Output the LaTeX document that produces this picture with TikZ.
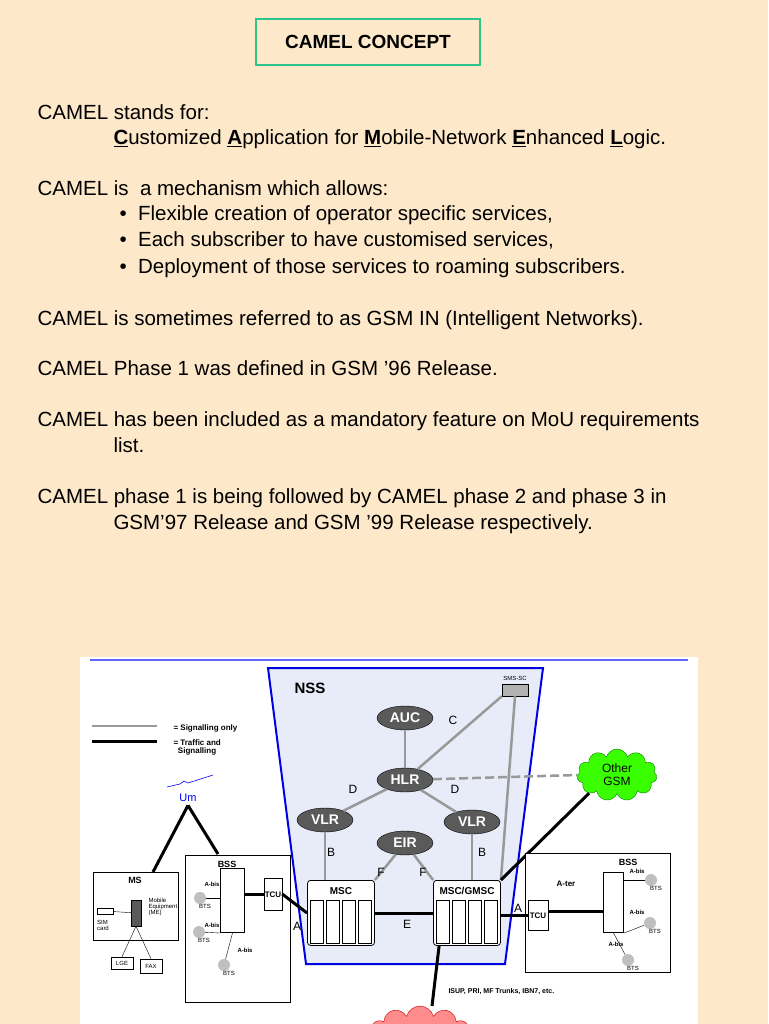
\documentclass[tikz,border=0pt]{standalone}
\usepackage{fontspec}
\setmainfont{Liberation Sans}
\usetikzlibrary{shapes.symbols,shapes.geometric,positioning}
\definecolor{peach}{HTML}{FDE8CA}
\definecolor{titleg}{HTML}{2EC48A}
\definecolor{nssfill}{HTML}{E8ECF8}
\definecolor{dev}{HTML}{5A5A5A}
\begin{document}
\begin{tikzpicture}[x=1pt,y=-1pt,
  body/.style={anchor=base west,font=\fontsize{20.5}{22}\selectfont},
  sig/.style={line width=2.5pt,gray!80},
  trf/.style={line width=3pt,black},
  dev/.style={ellipse,fill=dev,draw=black,minimum width=56pt,minimum height=24pt,inner sep=0pt,text=white,font=\bfseries\fontsize{14}{14}\selectfont},
  lbl/.style={font=\fontsize{12}{12}\selectfont},
  sm/.style={font=\bfseries\fontsize{8}{8}\selectfont},
  tiny/.style={font=\fontsize{6}{6}\selectfont},
  box/.style={draw=black,fill=white,line width=0.6pt},
  sw/.style={draw=black,fill=white,minimum width=67pt,minimum height=65pt,anchor=north,line width=0.8pt,rounded corners=3pt}]
\fill[peach] (0,0) rectangle (768,1024);
\useasboundingbox (0,0) rectangle (768,1024);
% title
\node[draw=titleg,line width=1.2pt,minimum width=224pt,minimum height=46pt,font=\bfseries\fontsize{19}{20}\selectfont] (title) at (368,42) {CAMEL CONCEPT};
% text
\node[body] (t1) at (34,120) {CAMEL stands for:};
\node[body] (t2) at (110,145) {\underline{\textbf{C}}ustomized \underline{\textbf{A}}pplication for \underline{\textbf{M}}obile-Network \underline{\textbf{E}}nhanced \underline{\textbf{L}}ogic.};
\node[body] (t3) at (34,196) {CAMEL is\ \ a mechanism which allows:};
\node[body] (t4) at (116,221) {\textbullet\ \ Flexible creation of operator specific services,};
\node[body] (t5) at (116,247) {\textbullet\ \ Each subscriber to have customised services,};
\node[body] (t6) at (116,273) {\textbullet\ \ Deployment of those services to roaming subscribers.};
\node[body] (t7) at (34,325) {CAMEL is sometimes referred to as GSM IN (Intelligent Networks).};
\node[body] (t8) at (34,375) {CAMEL Phase 1 was defined in GSM '96 Release.};
\node[body] (t9) at (34,426) {CAMEL has been included as a mandatory feature on MoU requirements};
\node[body] (t10) at (110,452) {list.};
\node[body] (t11) at (34,503) {CAMEL phase 1 is being followed by CAMEL phase 2 and phase 3 in};
\node[body] (t12) at (110,529) {GSM'97 Release and GSM '99 Release respectively.};
% diagram panel
\fill[white] (80,657) rectangle (698,1024);
\draw[blue!60,line width=2pt] (90,660) -- (688,660);
\draw[blue!90!black,line width=2pt,fill=nssfill] (268,668) -- (543,668) -- (505,964) -- (306,964) -- cycle;
\node[font=\bfseries\fontsize{15}{15}\selectfont] (nss) at (310,688) {NSS};
% legend
\coordinate (l1a) at (92,726); \coordinate (l1b) at (157,726);
\coordinate (l2a) at (92,741); \coordinate (l2b) at (157,741);
\draw[sig] (l1a) -- (l1b); \draw[trf] (l2a) -- (l2b);
\node[sm,anchor=west] (lg1) at (170,728) {= Signalling only};
\node[sm,anchor=north west,align=left] (lg2) at (170,736) {= Traffic and\\ \ \ Signalling};
% NSS elements
\node[draw,fill=gray!60,minimum width=26pt,minimum height=12pt,inner sep=0pt] (sms) at (515,690) {};
\node[tiny,above=0pt of sms] (smsl) {SMS-SC};
\node[dev] (auc) at (405,718) {AUC};
\node[dev] (hlr) at (405,780) {HLR};
\node[dev] (vlr1) at (325,820) {VLR};
\node[dev] (vlr2) at (472,822) {VLR};
\node[dev] (eir) at (405,843) {EIR};
\node[sw] (msc) at (341,880) {};
\node[sw] (gmsc) at (467,880) {};
\node[sm,font=\bfseries\fontsize{10}{10}\selectfont] (mscl) at (341,891) {MSC};
\node[sm,font=\bfseries\fontsize{10}{10}\selectfont] (gmscl) at (467,891) {MSC/GMSC};
\foreach \n in {msc,gmsc}{\foreach \i in {0,1,2,3}{\draw[line width=0.6pt] ([xshift=3+\i*16pt,yshift=-20pt]\n.north west) rectangle ++(13,43);}}
% other GSM, PSTN
\node[cloud,cloud puffs=11,aspect=1.6,fill=green!70!lime,draw=green!50!black,minimum width=80pt,minimum height=52pt,align=center,font=\fontsize{12}{13}\selectfont,inner sep=0pt] (og) at (617,775) {Other\\GSM};
\node[cloud,cloud puffs=11,aspect=2.2,fill=red!45,draw=red!80!black,minimum width=100pt,minimum height=56pt,font=\fontsize{12}{12}\selectfont,text depth=0pt] (pstn) at (420,1034) {PSTN};
\fill[white] (80,1024) rectangle (698,1070);
% connections
\draw[sig] (auc) -- (hlr);
\draw[sig] (hlr) -- (sms.south west);
\draw[sig] (sms.south) -- (gmsc.north east);
\draw[sig] (hlr) -- (vlr1);
\draw[sig] (hlr) -- (vlr2);
\draw[sig] (vlr1) -- (vlr1|-msc.north);
\draw[sig] (vlr2) -- (vlr2|-gmsc.north);
\draw[sig] (eir) -- (msc.north east);
\draw[sig] (eir) -- (gmsc.north west);
\draw[sig,dash pattern=on 9pt off 4pt] (hlr) -- (og.west);
\draw[trf] (gmsc.north east) -- (og.south west);
\coordinate (pst) at (432,1006);
\draw[trf] ([xshift=6pt]gmsc.south west) -- (pst);
\node[sm,anchor=west,font=\bfseries\fontsize{7}{7}\selectfont] (isup) at (445,991) {ISUP, PRI, MF Trunks, IBN7, etc.};
% interface labels
\node[lbl] at (453,720) {C};
\node[lbl] at (353,789) {D};
\node[lbl] at (455,789) {D};
\node[lbl] at (331,852) {B};
\node[lbl] at (482,852) {B};
\node[lbl] at (381,872) {F};
\node[lbl] at (423,872) {F};
\node[lbl] at (407,924) {E};
\node[lbl] at (297,926) {A};
\node[lbl] at (518,908) {A};
% Um
\node[text=blue,font=\fontsize{11}{11}\selectfont] (um) at (188,798) {Um};
\draw[blue,line width=0.6pt] (167,787) -- (180,784) -- (184,781) -- (188,783) -- (213,775);
% MS box
\node[box,minimum width=85pt,minimum height=68pt,anchor=north west] (ms) at (93,872) {};
\node[sm,font=\bfseries\fontsize{9}{9}\selectfont] at (135,880) {MS};
\node[draw,fill=white,minimum width=16pt,minimum height=6pt,inner sep=0pt] (sim) at (105,911) {};
\node[tiny,align=left] at (103,925) {SIM\\card};
\node[draw,fill=dev,minimum width=10pt,minimum height=26pt,inner sep=0pt] (me) at (136,913) {};
\node[tiny,align=left,anchor=west] at (145,907) {Mobile\\Equipment\\(ME)};
\draw (sim) -- (me);
\node[draw,fill=white,minimum width=22pt,minimum height=12pt,inner sep=1pt,tiny] (lap) at (122,963) {LGE};
\node[draw,fill=white,minimum width=22pt,minimum height=14pt,inner sep=1pt,tiny] (fax) at (151,966) {FAX};
\draw (me.south) -- (lap.north); \draw (me.south) -- (fax.north);
\coordinate (mstop) at (153,872);
\coordinate (bsstop) at (218,854);
\draw[trf] (mstop) -- (um.south);
\draw[trf] (um.south) -- (bsstop);
% left BSS
\node[box,minimum width=105pt,minimum height=147pt,anchor=north west] (bss1) at (185,855) {};
\node[sm,font=\bfseries\fontsize{9}{9}\selectfont] at (227,864) {BSS};
\node[draw,fill=white,line width=1pt,minimum width=24pt,minimum height=64pt,anchor=north west] (bsc1) at (220,868) {};
\node[draw,fill=white,minimum width=18pt,minimum height=32pt,inner sep=0pt] (tcu1) at (273,894) {};
\node[sm] at (273,895) {TCU};
\draw[trf] (bsc1.east|-tcu1) -- (tcu1.west);
\coordinate (mscw) at (307,913);
\draw[trf] (tcu1.east) -- (mscw);
\draw[trf] ([yshift=-33pt]msc.north east) -- ([yshift=-33pt]gmsc.north west);
\foreach \nm/\px/\py in {b1/200/898, b2/199/932, b3/224/965}{\node[circle,fill=gray!50,minimum size=12pt,inner sep=0pt] (\nm) at (\px,\py) {}; \node[tiny] at (\px+5,\py+8) {BTS};}
\draw (b1) -- (bsc1.west|-b1); \draw (b2) -- (bsc1.south west); \draw (b3) -- (bsc1.south);
\node[tiny,font=\bfseries\fontsize{6}{6}\selectfont] at (212,884) {A-bis};
\node[tiny,font=\bfseries\fontsize{6}{6}\selectfont] at (212,925) {A-bis};
\node[tiny,font=\bfseries\fontsize{6}{6}\selectfont] at (245,950) {A-bis};
% right BSS
\node[box,minimum width=145pt,minimum height=119pt,anchor=north west] (bss2) at (525,853) {};
\node[sm,font=\bfseries\fontsize{9}{9}\selectfont] at (628,862) {BSS};
\node[draw,fill=white,line width=1pt,minimum width=20pt,minimum height=60pt,anchor=north west] (bsc2) at (603,872) {};
\node[draw,fill=white,minimum width=20pt,minimum height=30pt,inner sep=0pt] (tcu2) at (538,915) {};
\node[sm] at (538,916) {TCU};
\node[sm] at (566,884) {A-ter};
\draw[trf] (gmsc.east|-tcu2) -- (tcu2.west);
\draw[trf] (tcu2.north east) ++(0,12) coordinate (tcuo) -- (bsc2.west|-tcuo);
\foreach \nm/\px/\py in {c1/651/880, c2/650/923, c3/628/960}{\node[circle,fill=gray!50,minimum size=12pt,inner sep=0pt] (\nm) at (\px,\py) {}; \node[tiny] at (\px+5,\py+8) {BTS};}
\draw (c1) -- (bsc2.east|-c1); \draw (c2) -- (bsc2.south east); \draw (c3) -- (bsc2.south);
\node[tiny,font=\bfseries\fontsize{6}{6}\selectfont] at (637,871) {A-bis};
\node[tiny,font=\bfseries\fontsize{6}{6}\selectfont] at (637,912) {A-bis};
\node[tiny,font=\bfseries\fontsize{6}{6}\selectfont] at (616,944) {A-bis};
\end{tikzpicture}
\end{document}
